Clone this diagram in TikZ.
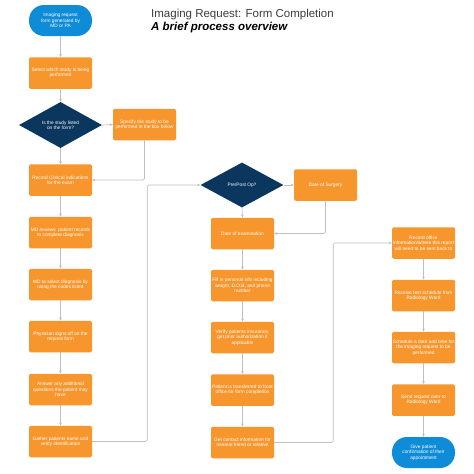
\documentclass[tikz,border=0pt]{standalone}
\usepackage{fontspec}
\setmainfont{Liberation Sans}
\usetikzlibrary{shapes.geometric,arrows.meta}
\definecolor{boxorange}{RGB}{247,150,45}
\definecolor{capblue}{RGB}{14,140,216}
\definecolor{decnavy}{RGB}{11,54,94}
\definecolor{linegray}{RGB}{190,190,190}
\definecolor{titlegray}{RGB}{60,60,60}
\tikzset{
  x=1pt,y=-1pt,
  base/.style={text=white,font=\fontsize{4.8}{5.4}\selectfont,align=center,inner sep=0pt},
  stepbox/.style={base,rectangle,rounded corners=1.5pt,fill=boxorange,minimum width=63pt,minimum height=31.5pt},
  capsule/.style={base,rectangle,rounded corners=15pt,fill=capblue,minimum width=63pt,minimum height=31pt},
  decision/.style={base,diamond,fill=decnavy,minimum width=83pt,minimum height=45pt},
  conn/.style={draw=linegray,line width=0.6pt,rounded corners=1.5pt,-{Stealth[length=3pt,width=2.6pt]}},
}
\begin{document}
\begin{tikzpicture}
\useasboundingbox (0,0) rectangle (474,474);
\fill[white] (0,0) rectangle (474,474);
% title
\node[anchor=base west,inner sep=0pt,text=titlegray,font=\fontsize{11.5}{13}\selectfont] (t1) at (151,17) {Imaging Request: Form Completion};
\node[anchor=base west,inner sep=0pt,text=black,font=\fontsize{11.5}{13}\selectfont\bfseries\itshape] (t2) at (151,30) {A brief process overview};
% column 1
\node[capsule] (start) at (60.5,20.5) {Imaging request\\form generated by\\MD or PA};
\node[stepbox] (sel) at (60.5,73) {Select which study is being\\performed};
\node[decision] (listed) at (60.5,125) {Is the study listed\\on the form?};
\node[stepbox] (spec) at (144.5,124.5) {Specify the study to be\\performed in the box below};
\node[stepbox] (rec) at (60.5,180) {Record Clinical indications\\for the exam};
\node[stepbox] (mdr) at (60.5,232.5) {MD reviews\ \ patient records\\to complete diagnosis};
\node[stepbox] (mds) at (60.5,284.5) {MD to select diagnosis by\\using the codes listed};
\node[stepbox] (phys) at (60.5,336.5) {Physician signs off on the\\request form};
\node[stepbox] (ans) at (60.5,389.5) {Answer any additional\\questions the patient may\\have};
\node[stepbox] (gat) at (60.5,441.5) {Gather patients name and\\verify identification};
% column 2
\node[decision] (pp) at (242,185) {Pre/Post Op?};
\node[stepbox] (dos) at (325.5,185) {Date of Surgery};
\node[stepbox] (doe) at (242.5,233.5) {Date of examination};
\node[stepbox] (fill) at (242.5,285.5) {Fill in personal info including\\weight, D.O.B, and phone\\number};
\node[stepbox] (ver) at (242.5,337.5) {Verify patients insurance,\\get prior authorization if\\applicable};
\node[stepbox] (tra) at (242.5,390) {Patient is transferred to front\\office for form completion};
\node[stepbox] (gc) at (242.5,442.5) {Get contact information for\\nearest friend or relative};
% column 3
\node[stepbox] (ro) at (423.5,243) {Record office\\information/where this report\\will need to be sent back to};
\node[stepbox] (rts) at (423.5,295.5) {Receive test schedule from\\Radiology Ward};
\node[stepbox] (sch) at (423.5,347.5) {Schedule a date and time for\\the imaging request to be\\performed};
\node[stepbox] (snd) at (423.5,400) {Send request over to\\Radiology Ward};
\node[capsule] (give) at (423.5,452.5) {Give patient\\confirmation of their\\appointment};
% connectors
\draw[conn] (start) -- (sel);
\draw[conn] (sel) -- (listed);
\draw[conn] (listed.east) -- (spec.west);
\draw[conn] (listed.south) -- (rec.north);
\draw[conn] (spec.south) |- (rec.east);
\draw[conn] (rec) -- (mdr);
\draw[conn] (mdr) -- (mds);
\draw[conn] (mds) -- (phys);
\draw[conn] (phys) -- (ans);
\draw[conn] (ans) -- (gat);
\draw[conn] (gat.east) -- ++(55,0) |- (pp.west);
\draw[conn] (pp.east) -- (dos.west);
\draw[conn] (pp.south) -- (doe.north);
\draw[conn] (dos.south) |- (doe.east);
\draw[conn] (doe) -- (fill);
\draw[conn] (fill) -- (ver);
\draw[conn] (ver) -- (tra);
\draw[conn] (tra) -- (gc);
\draw[conn] (gc.east) -- ++(59,0) |- (ro.west);
\draw[conn] (ro) -- (rts);
\draw[conn] (rts) -- (sch);
\draw[conn] (sch) -- (snd);
\draw[conn] (snd) -- (give);
\end{tikzpicture}
\end{document}
